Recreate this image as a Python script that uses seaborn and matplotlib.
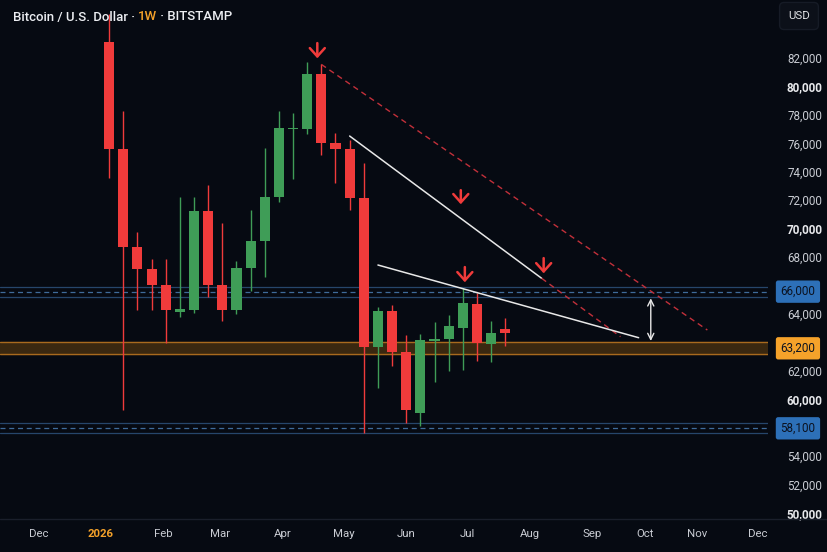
import matplotlib
matplotlib.use("Agg")
import matplotlib.pyplot as plt
import seaborn as sns
import pandas as pd
import numpy as np

# weekly BTC/USD candles
weeks = pd.date_range("2026-01-05", periods=29, freq="W-MON")
opens = [83150, 75600, 68720, 67150, 66030, 64150, 64270, 71260, 66010, 64270,
         67200, 69120, 72240, 76980, 77000, 80850, 76000, 75600, 72170, 61650,
         64220, 61310, 57000, 62110, 62210, 63020, 64690, 61860, 62910]
closes = [75600, 68720, 67150, 66030, 64270, 64360, 71260, 66010, 64270, 67200,
          69120, 72240, 77050, 77030, 80850, 76000, 75600, 72170, 61650, 64220,
          61340, 57230, 62160, 62230, 63170, 64780, 61930, 62630, 62630]
highs = [85100, 78290, 69780, 67860, 67860, 72240, 72240, 73060, 70410, 67740,
         71310, 75670, 78270, 78110, 81700, 81560, 76700, 76230, 74590, 64500,
         64620, 62510, 62580, 63450, 63920, 65800, 65440, 63500, 63690]
lows = [73560, 57230, 64270, 64270, 61970, 63780, 64080, 65160, 63520, 63990,
        65610, 66610, 71890, 73490, 76630, 75180, 73180, 71310, 55590, 58760,
        60330, 56300, 56110, 59220, 59980, 60050, 60700, 60630, 61740]

# drawn levels / trendlines
upper_band = [65163, 65866]
orange_band = [61153, 62039]
lower_band = [55594, 56297]
level_labels = ["66,000", "63,200", "58,100"]
level_values = [65560, 61574, 55945]

red_dash_dates = ["2026-04-20", "2026-10-28"]
red_dash_prices = [81550, 62860]
white1_dates = ["2026-05-04", "2026-08-07"]
white1_prices = [76510, 66500]
white1_ext_dates = ["2026-08-07", "2026-09-15"]
white1_ext_prices = [66500, 62390]
white2_dates = ["2026-05-18", "2026-09-24"]
white2_prices = [67435, 62320]
range_date = "2026-09-30"
range_prices = [65090, 62090]
arrow_dates = ["2026-04-18", "2026-06-28", "2026-08-08", "2026-06-30"]
arrow_tops = [83050, 72700, 67920, 67290]
arrow_bottoms = [81980, 71710, 66850, 66220]

ytick_vals = [82000, 80000, 78000, 76000, 74000, 72000, 70000, 68000, 64000,
              60000, 58000, 54000, 52000, 50000]
ytick_labels = ["82,000", "80,000", "78,000", "76,000", "74,000", "72,000", "70,000",
                "68,000", "64,000", "62,000", "60,000", "54,000", "52,000", "50,000"]
xtick_dates = ["2025-12-01", "2026-01-01", "2026-02-01", "2026-03-01", "2026-04-01",
               "2026-05-01", "2026-06-01", "2026-07-01", "2026-08-01", "2026-09-01",
               "2026-09-27", "2026-10-23", "2026-11-22"]
xtick_labels = ["Dec", "2026", "Feb", "Mar", "Apr", "May", "Jun", "Jul", "Aug",
                "Sep", "Oct", "Nov", "Dec"]

BG = "#060a12"
GREEN = "#3f9d57"
RED = "#f03b3b"
BLUE = "#2d70b8"
ORANGE = "#f5a22a"

sns.set_theme(style="dark", rc={"axes.facecolor": BG, "figure.facecolor": BG,
                                "axes.edgecolor": BG, "axes.grid": False})
plt.rcParams["font.family"] = ["Roboto", "DejaVu Sans"]

fig = plt.figure(figsize=(8.28, 5.52), dpi=100)
ax = fig.add_axes([0, 33 / 552, 768 / 828, 519 / 552])
ax.set_facecolor(BG)

df = pd.DataFrame({"date": weeks, "open": opens, "close": closes, "high": highs, "low": lows})
colors = np.where(df["close"] >= df["open"], GREEN, RED)
ax.vlines(df["date"], df["low"], df["high"], colors=colors, lw=1, zorder=3)
body = (df["close"] - df["open"]).abs().clip(lower=120)
ax.bar(df["date"], body, bottom=df[["open", "close"]].min(axis=1), width=5,
       color=colors, linewidth=0, zorder=4)

# horizontal zones
for band in (upper_band, lower_band):
    for v in band:
        ax.axhline(v, color="#26466b", lw=0.9, zorder=1)
    ax.axhline(sum(band) / 2, color="#3f6b9a", lw=0.9, ls=(0, (4, 3)), zorder=1)
ax.axhspan(orange_band[0], orange_band[1], color="#3a2810", zorder=1)
for v in orange_band:
    ax.axhline(v, color="#a86a1e", lw=1, zorder=2)

to_d = lambda s: pd.to_datetime(s)
ax.plot(to_d(red_dash_dates), red_dash_prices, color="#c2303a", lw=1, ls=(0, (4, 3)), zorder=5)
ax.plot(to_d(white1_dates), white1_prices, color="#e8e8e8", lw=1.1, zorder=5)
ax.plot(to_d(white1_ext_dates), white1_ext_prices, color="#c2303a", lw=1, ls=(0, (4, 3)), zorder=5)
ax.plot(to_d(white2_dates), white2_prices, color="#e8e8e8", lw=1.1, zorder=5)
ax.annotate("", xy=(to_d(range_date), range_prices[1]), xytext=(to_d(range_date), range_prices[0]),
            arrowprops=dict(arrowstyle="<->", color="#e8e8e8", lw=1, mutation_scale=11,
                            shrinkA=0, shrinkB=0), zorder=6)
for d, t, b in zip(arrow_dates, arrow_tops, arrow_bottoms):
    ax.annotate("", xy=(to_d(d), b), xytext=(to_d(d), t),
                arrowprops=dict(arrowstyle="->,head_length=0.5,head_width=0.45", color=RED,
                                lw=1.8, mutation_scale=12, shrinkA=0, shrinkB=0), zorder=6)

ax.set_xlim(pd.Timestamp("2025-11-12"), pd.Timestamp("2026-11-27"))
ax.set_ylim(49564, 86081)

# price axis
ax.yaxis.tick_right()
ax.set_yticks(ytick_vals, ytick_labels)
ax.tick_params(axis="y", length=0, pad=39, labelsize=8.4, colors="#c9ccd3")
for lab in ax.get_yticklabels():
    lab.set_ha("right")
    if lab.get_text() in ("80,000", "70,000", "60,000", "50,000"):
        lab.set_fontweight("bold")
        lab.set_color("#e8e9ec")

ax.set_xticks(to_d(xtick_dates), xtick_labels)
ax.tick_params(axis="x", length=0, pad=7, labelsize=8.2, colors="#c9ccd3")
for lab in ax.get_xticklabels():
    if lab.get_text() == "2026":
        lab.set_color(ORANGE)
        lab.set_fontweight("bold")

for txt, v, c in zip(level_labels, level_values, [BLUE, ORANGE, BLUE]):
    ax.text(1.039, v, txt, transform=ax.get_yaxis_transform(), ha="center", va="center",
            fontsize=8.4, color="#0b1220", clip_on=False, zorder=7,
            bbox=dict(boxstyle="round,pad=0.4,rounding_size=0.2", fc=c, ec="none"))

fig.text(799 / 828, 1 - 16 / 552, "USD", ha="center", va="center", fontsize=8.2, color="#e0e2e6",
         bbox=dict(boxstyle="round,pad=0.75,rounding_size=0.4", fc="#0c1019", ec="#161b26"))
fig.add_artist(plt.Line2D([0, 1], [33 / 552, 33 / 552], color="#1a1f2b", lw=1))

# chart title
t1 = ax.text(13 / 768, 1 - 17 / 519, "Bitcoin / U.S. Dollar · ", transform=ax.transAxes,
             fontsize=9.5, color="#eceef2", fontweight="medium", va="center")
t2 = ax.annotate("1W", xy=(1, 0), xycoords=t1, va="bottom", fontsize=9.5, color=ORANGE,
                 fontweight="medium")
ax.annotate(" · BITSTAMP", xy=(1, 0), xycoords=t2, va="bottom", fontsize=9.5,
            color="#eceef2", fontweight="medium")

for s in ax.spines.values():
    s.set_visible(False)

fig.savefig("out.png", dpi=100, facecolor=BG)
